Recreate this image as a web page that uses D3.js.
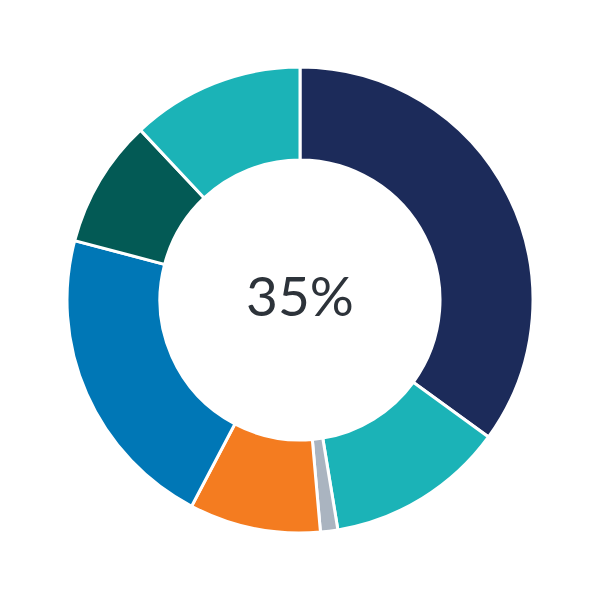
<!DOCTYPE html>
<html><head><meta charset="utf-8">
<script src="https://cdn.jsdelivr.net/npm/d3@7"></script>
<style>html,body{margin:0;padding:0;background:#fff}</style>
</head><body>
<svg id="c" width="600" height="600"></svg>
<script>
const categories = ["A","B","C","D","E","F","G"];
const values = [35, 12.4, 1.2, 9.1, 21.4, 8.9, 12];
const colors = ["#1c2b5a","#1bb3b7","#aab4c0","#f47c20","#0077b6","#035a55","#1bb3b7"];
const centerLabel = "35%";

const svg = d3.select("#c");
const g = svg.append("g").attr("transform","translate(300,300)");
const pie = d3.pie().sort(null).value(d=>d)(values);
const arc = d3.arc().innerRadius(140).outerRadius(233);
g.selectAll("path").data(pie).join("path")
  .attr("d", arc)
  .attr("fill", (d,i)=>colors[i])
  .attr("stroke","#fff").attr("stroke-width",3);
g.append("text").text(centerLabel)
  .attr("text-anchor","middle").attr("y",16)
  .attr("font-family","Lato").attr("font-weight",400)
  .attr("font-size",55).attr("fill","#2d333a");
</script>
</body></html>
